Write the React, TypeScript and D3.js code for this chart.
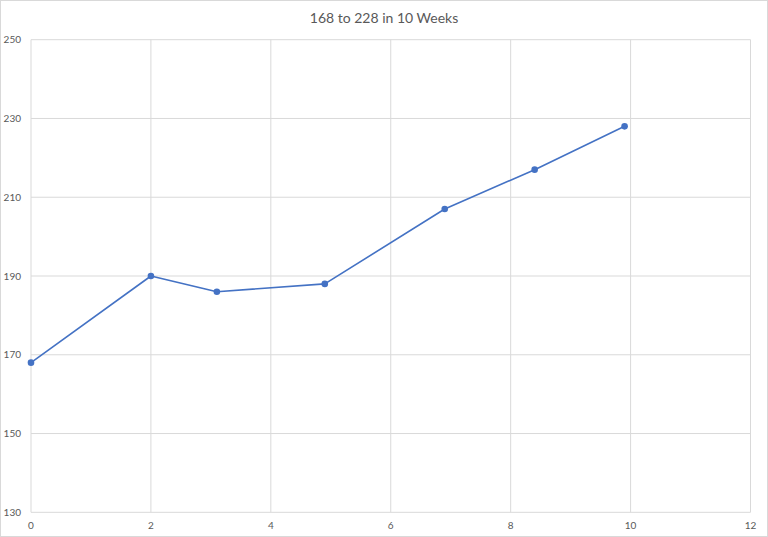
import React from "react";
import * as d3 from "d3";

const weeks = [0, 2, 3.1, 4.9, 6.9, 8.4, 9.9];
const weights = [168, 190, 186, 188, 207, 217, 228];
const xTicks = [0, 2, 4, 6, 8, 10, 12];
const yTicks = [130, 150, 170, 190, 210, 230, 250];
const title = "168 to 228 in 10 Weeks";

const W = 768;
const H = 537;
const m = { left: 31, right: 17.5, top: 39.7, bottom: 24.7 };

export default function App() {
  const x = d3.scaleLinear().domain([0, 12]).range([m.left, W - m.right]);
  const y = d3.scaleLinear().domain([130, 250]).range([H - m.bottom, m.top]);
  const pts = weeks.map((w, i) => [x(w), y(weights[i])] as [number, number]);
  const line = d3.line()(pts) || "";
  const font = "Lato, 'Open Sans', sans-serif";
  return (
    <svg
      width={W}
      height={H}
      style={{ position: "absolute", left: 0, top: 0, background: "#fff" }}
      fontFamily={font}
    >
      <rect x={0.5} y={0.5} width={W - 1} height={H - 1} fill="#fff" stroke="#d9d9d9" />
      <text x={384} y={23} textAnchor="middle" fontSize={14} fill="#595959">
        {title}
      </text>
      {yTicks.map((t) => (
        <g key={"y" + t}>
          <line x1={x(0)} x2={x(12)} y1={y(t)} y2={y(t)} stroke="#d9d9d9" strokeWidth={1} />
          <text x={21} y={y(t)} dy="0.35em" textAnchor="end" fontSize={10} fill="#595959">
            {t}
          </text>
        </g>
      ))}
      {xTicks.map((t) => (
        <g key={"x" + t}>
          <line x1={x(t)} x2={x(t)} y1={y(130)} y2={y(250)} stroke="#d9d9d9" strokeWidth={1} />
          <text x={x(t)} y={H - 12} dy="0.35em" textAnchor="middle" fontSize={10} fill="#595959">
            {t}
          </text>
        </g>
      ))}
      <path d={line} fill="none" stroke="#4472C4" strokeWidth={1.6} strokeLinejoin="round" />
      {pts.map((p, i) => (
        <circle key={i} cx={p[0]} cy={p[1]} r={3.3} fill="#4472C4" />
      ))}
    </svg>
  );
}
